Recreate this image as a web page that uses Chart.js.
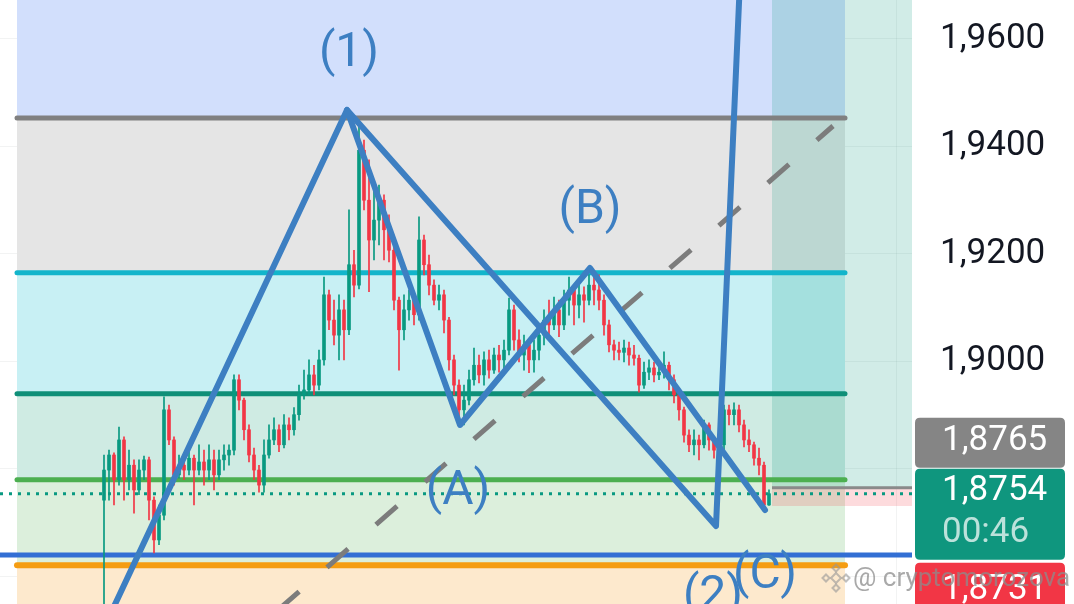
<!DOCTYPE html>
<html>
<head>
<meta charset="utf-8">
<script src="https://cdn.jsdelivr.net/npm/chart.js@4.4.1/dist/chart.umd.min.js"></script>
<style>
  html, body { margin: 0; padding: 0; background: #fff; overflow: hidden; }
</style>
</head>
<body>
<canvas id="myChart" width="1074" height="604"></canvas>
<script>
// candles (index = bar number)
const opens = [1.8742, 1.8798, 1.8826, 1.8780, 1.8854, 1.8780, 1.8807, 1.8761, 1.8798, 1.8817,
  1.8742, 1.8668, 1.8714, 1.8910, 1.8854, 1.8789, 1.8807, 1.8798, 1.8820, 1.8798,
  1.8813, 1.8798, 1.8817, 1.8789, 1.8817, 1.8826, 1.8835, 1.8966, 1.8928, 1.8873,
  1.8826, 1.8798, 1.8770, 1.8826, 1.8854, 1.8873, 1.8845, 1.8882, 1.8873, 1.8901,
  1.8938, 1.8947, 1.8975, 1.8956, 1.9003, 1.9124, 1.9077, 1.9049, 1.9096, 1.9059,
  1.9180, 1.9142, 1.9393, 1.9300, 1.9226, 1.9263, 1.9300, 1.9245, 1.9207, 1.9114,
  1.9059, 1.9096, 1.9114, 1.9087, 1.9226, 1.9180, 1.9142, 1.9114, 1.9124, 1.9077,
  1.9003, 1.8956, 1.8910, 1.8928, 1.8966, 1.8993, 1.8975, 1.9003, 1.8984, 1.9012,
  1.9003, 1.9021, 1.9096, 1.9040, 1.9012, 1.9031, 1.9003, 1.9021, 1.9049, 1.9077,
  1.9068, 1.9096, 1.9068, 1.9114, 1.9133, 1.9105, 1.9124, 1.9114, 1.9142, 1.9133,
  1.9114, 1.9068, 1.9031, 1.9021, 1.9017, 1.9025, 1.9012, 1.9006, 1.8956, 1.8980,
  1.8988, 1.8975, 1.8980, 1.8993, 1.8966, 1.8938, 1.8910, 1.8863, 1.8845, 1.8854,
  1.8845, 1.8882, 1.8854, 1.8835, 1.8845, 1.8910, 1.8901, 1.8910, 1.8882, 1.8854,
  1.8845, 1.8820, 1.8807, 1.8733];
const highs = [1.8826, 1.8835, 1.8830, 1.8878, 1.8860, 1.8835, 1.8817, 1.8817, 1.8824, 1.8822,
  1.8748, 1.8733, 1.8934, 1.8919, 1.8860, 1.8826, 1.8820, 1.8835, 1.8826, 1.8845,
  1.8835, 1.8845, 1.8835, 1.8835, 1.8845, 1.8845, 1.8975, 1.8975, 1.8932, 1.8882,
  1.8839, 1.8807, 1.8854, 1.8882, 1.8895, 1.8882, 1.8901, 1.8895, 1.8914, 1.8956,
  1.8984, 1.9003, 1.8993, 1.9021, 1.9157, 1.9133, 1.9114, 1.9124, 1.9114, 1.9282,
  1.9207, 1.9449, 1.9412, 1.9375, 1.9319, 1.9328, 1.9310, 1.9273, 1.9215, 1.9120,
  1.9124, 1.9133, 1.9124, 1.9269, 1.9235, 1.9198, 1.9152, 1.9142, 1.9133, 1.9082,
  1.9012, 1.8966, 1.8956, 1.8984, 1.9025, 1.9012, 1.9018, 1.9021, 1.9025, 1.9030,
  1.9040, 1.9118, 1.9105, 1.9059, 1.9049, 1.9040, 1.9040, 1.9062, 1.9096, 1.9114,
  1.9120, 1.9114, 1.9133, 1.9157, 1.9142, 1.9142, 1.9139, 1.9161, 1.9166, 1.9161,
  1.9124, 1.9077, 1.9040, 1.9036, 1.9040, 1.9036, 1.9030, 1.9012, 1.8999, 1.9003,
  1.8999, 1.8999, 1.9018, 1.8999, 1.8975, 1.8945, 1.8915, 1.8873, 1.8873, 1.8863,
  1.8891, 1.8886, 1.8860, 1.8863, 1.8919, 1.8919, 1.8923, 1.8919, 1.8891, 1.8873,
  1.8850, 1.8839, 1.8813, 1.8761];
const lows = [1.8510, 1.8742, 1.8733, 1.8770, 1.8742, 1.8761, 1.8718, 1.8752, 1.8780, 1.8705,
  1.8644, 1.8659, 1.8705, 1.8845, 1.8770, 1.8783, 1.8780, 1.8789, 1.8733, 1.8789,
  1.8770, 1.8780, 1.8761, 1.8780, 1.8798, 1.8807, 1.8826, 1.8910, 1.8854, 1.8813,
  1.8780, 1.8757, 1.8757, 1.8820, 1.8845, 1.8832, 1.8839, 1.8854, 1.8863, 1.8891,
  1.8930, 1.8938, 1.8938, 1.8947, 1.8993, 1.9059, 1.9031, 1.9003, 1.9003, 1.9050,
  1.9120, 1.9135, 1.9282, 1.9130, 1.9189, 1.9217, 1.9189, 1.9185, 1.9096, 1.8984,
  1.9040, 1.9077, 1.9068, 1.9077, 1.9161, 1.9124, 1.9105, 1.9096, 1.9053, 1.8984,
  1.8938, 1.8895, 1.8882, 1.8919, 1.8956, 1.8960, 1.8956, 1.8969, 1.8978, 1.8980,
  1.8975, 1.9012, 1.9021, 1.8999, 1.8984, 1.8979, 1.8980, 1.9003, 1.9031, 1.9040,
  1.9059, 1.9046, 1.9059, 1.9086, 1.9068, 1.9081, 1.9073, 1.9105, 1.9105, 1.9096,
  1.9049, 1.9018, 1.9003, 1.9003, 1.8999, 1.8993, 1.8993, 1.8943, 1.8950, 1.8966,
  1.8962, 1.8966, 1.8969, 1.8947, 1.8923, 1.8891, 1.8850, 1.8832, 1.8826, 1.8817,
  1.8839, 1.8835, 1.8820, 1.8811, 1.8835, 1.8882, 1.8882, 1.8869, 1.8841, 1.8832,
  1.8807, 1.8789, 1.8730, 1.8732];
const closes = [1.8798, 1.8826, 1.8780, 1.8854, 1.8780, 1.8807, 1.8761, 1.8798, 1.8817, 1.8742,
  1.8668, 1.8714, 1.8910, 1.8854, 1.8789, 1.8807, 1.8798, 1.8820, 1.8798, 1.8813,
  1.8798, 1.8817, 1.8789, 1.8817, 1.8826, 1.8835, 1.8966, 1.8928, 1.8873, 1.8826,
  1.8798, 1.8770, 1.8826, 1.8854, 1.8873, 1.8845, 1.8882, 1.8873, 1.8901, 1.8938,
  1.8947, 1.8975, 1.8956, 1.9003, 1.9124, 1.9077, 1.9049, 1.9096, 1.9059, 1.9180,
  1.9142, 1.9393, 1.9300, 1.9226, 1.9263, 1.9300, 1.9245, 1.9207, 1.9114, 1.9059,
  1.9096, 1.9114, 1.9087, 1.9226, 1.9180, 1.9142, 1.9114, 1.9124, 1.9077, 1.9003,
  1.8956, 1.8910, 1.8928, 1.8966, 1.8993, 1.8975, 1.9003, 1.8984, 1.9012, 1.9003,
  1.9021, 1.9096, 1.9040, 1.9012, 1.9031, 1.9003, 1.9021, 1.9049, 1.9077, 1.9068,
  1.9096, 1.9068, 1.9114, 1.9133, 1.9105, 1.9124, 1.9114, 1.9142, 1.9133, 1.9114,
  1.9068, 1.9031, 1.9021, 1.9017, 1.9025, 1.9012, 1.9006, 1.8956, 1.8980, 1.8988,
  1.8975, 1.8980, 1.8993, 1.8966, 1.8938, 1.8910, 1.8863, 1.8845, 1.8854, 1.8845,
  1.8882, 1.8854, 1.8835, 1.8845, 1.8910, 1.8901, 1.8910, 1.8882, 1.8854, 1.8845,
  1.8820, 1.8807, 1.8733, 1.8754];

// visible window
const X_MIN = -20.8, X_MAX = 161.6;
const Y_MIN = 1.85488, Y_MAX = 1.96725;
const priceTicks = [1.86, 1.88, 1.90, 1.92, 1.94, 1.96];
const timeGridTicks = [-14.8, 71.8, 158.4];

// horizontal levels drawn from bar -17.4 to 148.2
const levelStart = -17.4, levelEnd = 148.2;
const levelValues = [1.9453, 1.9165, 1.8940, 1.8780, 1.8621];
const levelColors = ['#808080', '#12b5cb', '#0f8f78', '#4caf50', '#f59d12'];
const bandTops = [1.9800, 1.9453, 1.9165, 1.8940, 1.8780, 1.8621];
const bandBottoms = [1.9453, 1.9165, 1.8940, 1.8780, 1.8621, 1.8400];
const bandColors = ['#d2dffc', '#e5e5e5', '#c8f0f4', '#cfebe3', '#dcefdc', '#fde9cd'];
const hLineValue = 1.8640;

// long position tool
const posStart = 133.6, posEnd = 170;
const posTarget = 1.9800, posEntry = 1.8765, posStop = 1.8731;
const countdown = '00:46';

// wave drawings (bar index, price)
const waveMainX = [1.2, 48.6, 71.2, 97.2, 132.2];
const waveMainY = [1.85283, 1.94679, 1.88818, 1.91739, 1.87237];
const waveAltX = [48.6, 122.4, 127.2];
const waveAltY = [1.94679, 1.86939, 1.97097];
const trendX = [34.8, 145.8];
const trendY = [1.85376, 1.94381];
const waveLabels = ['(1)', '(A)', '(B)', '(2)', '(C)'];
const waveLabelX = [49.0, 70.8, 97.2, 121.8, 132.2];
const waveLabelY = [1.95720, 1.87571, 1.92799, 1.85620, 1.86010];

const WAVE_COLOR = '#3d7fc2';
const UP = '#089981', DOWN = '#f23645';

const fmt = v => v.toFixed(4).replace('.', ',');
const pts = (xs, ys) => xs.map((x, i) => ({ x: x, y: ys[i] }));
const flat = (a, b, v) => [{ x: a, y: v }, { x: b, y: v }];

const datasets = [];

bandTops.forEach((top, i) => {
  datasets.push({
    type: 'line', data: flat(levelStart, levelEnd, top), borderWidth: 0, pointRadius: 0,
    fill: { value: bandBottoms[i] }, backgroundColor: bandColors[i], order: 100
  });
});

datasets.push({
  type: 'line', data: flat(posStart, posEnd, posTarget), borderWidth: 0, pointRadius: 0,
  fill: { value: posEntry }, backgroundColor: 'rgba(8,153,129,0.19)', order: 95
});
datasets.push({
  type: 'line', data: flat(posStart, posEnd, posEntry), borderWidth: 0, pointRadius: 0,
  fill: { value: posStop }, backgroundColor: 'rgba(242,54,69,0.18)', order: 95
});
datasets.push({
  type: 'line', data: flat(posStart, posEnd, posEntry), borderColor: '#8a8a8a', borderWidth: 3,
  pointRadius: 0, fill: false, order: 90
});

levelValues.forEach((v, i) => {
  datasets.push({
    type: 'line', data: flat(levelStart, levelEnd, v), borderColor: levelColors[i],
    borderWidth: i === 4 ? 6 : 5, borderCapStyle: 'round', pointRadius: 0, fill: false, order: 80
  });
});
datasets.push({
  type: 'line', data: flat(X_MIN, X_MAX, hLineValue), borderColor: '#336fd4', borderWidth: 5,
  pointRadius: 0, fill: false, order: 80
});
datasets.push({
  type: 'line', data: flat(X_MIN, X_MAX, closes[closes.length - 1]), borderColor: UP, borderWidth: 3,
  borderDash: [3, 6], pointRadius: 0, fill: false, order: 75
});

const candleColors = closes.map((c, i) => c >= opens[i] ? UP : DOWN);
datasets.push({
  type: 'bar', data: closes.map((c, i) => ({ x: i, y: [lows[i], highs[i]] })),
  backgroundColor: candleColors, barThickness: 1, grouped: false, order: 60
});
datasets.push({
  type: 'bar', data: closes.map((c, i) => ({ x: i, y: [opens[i], c] })),
  backgroundColor: candleColors, barThickness: 3, minBarLength: 1, grouped: false, order: 59
});

datasets.push({
  type: 'line', data: pts(trendX, trendY), borderColor: '#7c7c7c', borderWidth: 5,
  borderDash: [28, 37], pointRadius: 0, fill: false, order: 50
});
datasets.push({
  type: 'line', data: pts(waveMainX, waveMainY), borderColor: WAVE_COLOR, borderWidth: 6,
  borderJoinStyle: 'round', borderCapStyle: 'round', pointRadius: 0, fill: false, order: 40
});
datasets.push({
  type: 'line', data: pts(waveAltX, waveAltY), borderColor: WAVE_COLOR, borderWidth: 6,
  borderJoinStyle: 'round', borderCapStyle: 'round', pointRadius: 0, fill: false, order: 40
});

function roundBox(ctx, x, y, w, h, r) {
  ctx.beginPath();
  ctx.moveTo(x + r, y);
  ctx.lineTo(x + w - r, y);
  ctx.quadraticCurveTo(x + w, y, x + w, y + r);
  ctx.lineTo(x + w, y + h - r);
  ctx.quadraticCurveTo(x + w, y + h, x + w - r, y + h);
  ctx.lineTo(x + r, y + h);
  ctx.quadraticCurveTo(x, y + h, x, y + h - r);
  ctx.lineTo(x, y + r);
  ctx.quadraticCurveTo(x, y, x + r, y);
  ctx.closePath();
}

const overlay = {
  id: 'overlay',
  afterDatasetsDraw(chart) {
    const { ctx, scales: { x, y } } = chart;
    ctx.save();
    ctx.font = '400 48px Roboto';
    ctx.fillStyle = WAVE_COLOR;
    ctx.textAlign = 'center';
    ctx.textBaseline = 'middle';
    waveLabels.forEach((t, i) => {
      ctx.fillText(t, x.getPixelForValue(waveLabelX[i]), y.getPixelForValue(waveLabelY[i]));
    });
    ctx.restore();
  },
  afterDraw(chart) {
    const { ctx, chartArea, scales: { y } } = chart;
    const left = chartArea.right + 3, w = 150;
    const py = y.getPixelForValue(closes[closes.length - 1]);
    const gTop = py - 25, gBot = py + 66;
    ctx.save();
    ctx.font = '400 35px Roboto';
    ctx.textBaseline = 'middle';
    ctx.textAlign = 'left';
    // entry label
    ctx.fillStyle = '#858585';
    roundBox(ctx, left, gTop - 51, w, 50, 5); ctx.fill();
    ctx.fillStyle = '#ffffff';
    ctx.fillText(fmt(posEntry), 942, gTop - 27);
    // last price label
    ctx.fillStyle = '#0f967e';
    roundBox(ctx, left, gTop, w, gBot - gTop, 5); ctx.fill();
    ctx.fillStyle = '#ffffff';
    ctx.fillText(fmt(closes[closes.length - 1]), 942, gTop + 23);
    ctx.fillStyle = 'rgba(255,255,255,0.72)';
    ctx.fillText(countdown, 942, gTop + 65);
    // stop label
    ctx.fillStyle = '#f23645';
    roundBox(ctx, left, gBot + 3, w, 60, 5); ctx.fill();
    ctx.fillStyle = '#ffffff';
    ctx.fillText(fmt(posStop), 942, gBot + 31);
    // watermark
    ctx.strokeStyle = 'rgba(150,150,150,0.6)';
    ctx.lineWidth = 2;
    const cx = 836, cy = 578;
    [[0, 0, 5], [0, -10, 3.5], [0, 10, 3.5], [-10, 0, 3.5], [10, 0, 3.5]].forEach(d => {
      ctx.beginPath();
      ctx.moveTo(cx + d[0], cy + d[1] - d[2]);
      ctx.lineTo(cx + d[0] + d[2], cy + d[1]);
      ctx.lineTo(cx + d[0], cy + d[1] + d[2]);
      ctx.lineTo(cx + d[0] - d[2], cy + d[1]);
      ctx.closePath();
      ctx.stroke();
    });
    ctx.font = '400 26px Roboto';
    ctx.fillStyle = 'rgba(140,140,140,0.75)';
    ctx.fillText('@ cryptomorozova', 853, 579);
    ctx.restore();
  }
};

const ctxt = document.getElementById('myChart').getContext('2d');
const myChart = new Chart(ctxt, {
  type: 'bar',
  data: { datasets: datasets },
  options: {
    responsive: false,
    animation: false,
    layout: { padding: 0 },
    plugins: { legend: { display: false }, tooltip: { enabled: false } },
    scales: {
      x: {
        type: 'linear', min: X_MIN, max: X_MAX, offset: false, z: 1,
        grid: { color: 'rgba(42,46,57,0.06)', drawTicks: false, offset: false },
        border: { display: false },
        ticks: { display: false },
        afterBuildTicks: s => { s.ticks = timeGridTicks.map(v => ({ value: v })); },
        afterFit: s => { s.height = 0; s.paddingLeft = 0; s.paddingRight = 0; }
      },
      y: {
        position: 'right', min: Y_MIN, max: Y_MAX, z: 1,
        grid: { color: 'rgba(42,46,57,0.06)', drawTicks: false },
        border: { display: false },
        afterBuildTicks: s => { s.ticks = priceTicks.map(v => ({ value: v })); },
        ticks: {
          padding: 28, color: '#131722', font: { family: 'Roboto', size: 35 },
          callback: v => v >= 1.899 ? fmt(v) : ''
        },
        afterFit: s => { s.width = 162; s.paddingTop = 0; s.paddingBottom = 0; }
      }
    }
  },
  plugins: [overlay]
});
</script>
</body>
</html>
